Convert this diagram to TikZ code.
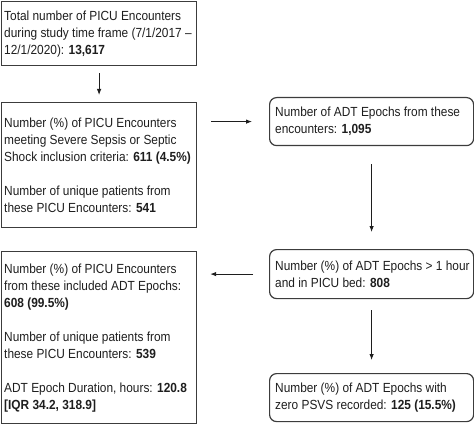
\documentclass[tikz,border=0pt]{standalone}
\usepackage{fontspec}
\setmainfont{Liberation Sans}[FakeStretch=0.9]
\usetikzlibrary{arrows.meta}
\definecolor{bord}{HTML}{3C3C3C}
\definecolor{txt}{HTML}{1E1E1E}
\tikzset{
  box/.style={draw=bord, line width=1.2pt, anchor=north west, inner sep=0pt,
    minimum width=195pt},
  rbox/.style={box, rounded corners=7pt, minimum width=204pt},
  lbl/.style={anchor=west, align=left, inner sep=0pt, text=txt,
    font=\fontsize{13.2}{17}\selectfont},
  arr/.style={draw=txt, line width=0.9pt, -{Latex[length=6pt,width=4.5pt]}}
}
\begin{document}
\begin{tikzpicture}[x=1pt,y=1pt]
\useasboundingbox (0,0) rectangle (474,-425);
\node[box, minimum height=64pt] (b1) at (1,-1) {};
\node[lbl] (t1) at ([xshift=3pt]b1.west)
  {Total number of PICU Encounters\\during study time frame (7/1/2017 –\\12/1/2020): \textbf{13,617}};
\node[box, minimum height=125pt] (b2) at (1,-102) {};
\node[lbl] (t2) at ([xshift=3pt]b2.west)
  {Number (\%) of PICU Encounters\\meeting Severe Sepsis or Septic\\Shock inclusion criteria: \textbf{611 (4.5\%)}\\[17pt]Number of unique patients from\\these PICU Encounters: \textbf{541}};
\node[rbox, minimum height=48pt] (b3) at (269,-97) {};
\node[lbl] (t3) at ([xshift=6pt]b3.west)
  {Number of ADT Epochs from these\\encounters: \textbf{1,095}};
\node[box, minimum height=172pt] (b4) at (1,-251) {};
\node[lbl] (t4) at ([xshift=3pt]b4.west)
  {Number (\%) of PICU Encounters\\from these included ADT Epochs:\\\textbf{608 (99.5\%)}\\[17pt]Number of unique patients from\\these PICU Encounters: \textbf{539}\\[17pt]ADT Epoch Duration, hours: \textbf{120.8}\\\textbf{[IQR 34.2, 318.9]}};
\node[rbox, minimum height=49pt] (b5) at (269,-249) {};
\node[lbl] (t5) at ([xshift=6pt]b5.west)
  {Number (\%) of ADT Epochs > 1 hour\\and in PICU bed: \textbf{808}};
\node[rbox, minimum height=48pt] (b6) at (269,-373) {};
\node[lbl] (t6) at ([xshift=6pt]b6.west)
  {Number (\%) of ADT Epochs with\\zero PSVS recorded: \textbf{125 (15.5\%)}};
\draw[arr, shorten <=7pt, shorten >=7pt] (b1.south) -- (b2.north);
\draw[arr, shorten <=14pt, shorten >=17pt] (b2.east |- b3.west) -- (b3.west);
\draw[arr, shorten <=18pt, shorten >=17pt] (b3.south) -- (b5.north);
\draw[arr, shorten <=16pt, shorten >=13pt] (b5.west) -- (b4.east |- b5.west);
\draw[arr, shorten <=11pt, shorten >=13pt] (b5.south) -- (b6.north);
\end{tikzpicture}
\end{document}
